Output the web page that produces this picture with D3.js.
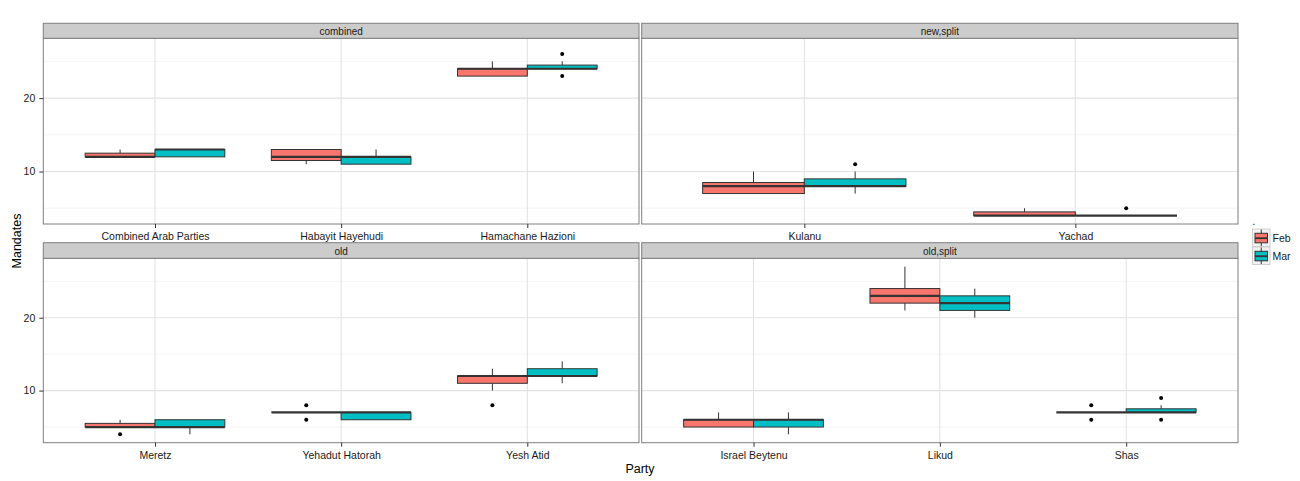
<!DOCTYPE html>
<html lang="en">
<head>
  <meta charset="UTF-8">
  <title>Mandates by party</title>
  <script src="https://d3js.org/d3.v7.min.js"></script>
  <style>
    body { margin: 0; background: #fff; }
    text { font-family: "Liberation Sans", Arial, sans-serif; }
  </style>
</head>
<body>
<script>
  // data
  var months = ['Feb', 'Mar']
  var colors = ['#F8766D', '#00BFC4']
  var facets = ['combined', 'new,split', 'old', 'old,split']
  var parties = ['Combined Arab Parties', 'Habayit Hayehudi', 'Hamachane Hazioni',
    'Kulanu', 'Yachad',
    'Meretz', 'Yehadut Hatorah', 'Yesh Atid',
    'Israel Beytenu', 'Likud', 'Shas']
  var partyFacet = ['combined', 'combined', 'combined',
    'new,split', 'new,split',
    'old', 'old', 'old',
    'old,split', 'old,split', 'old,split']
  // [min, q1, median, q3, max]
  var febStats = [[12, 12, 12, 12.5, 13], [11, 11.5, 12, 13, 13], [23, 23, 24, 24, 25],
    [7, 7, 8, 8.5, 10], [4, 4, 4, 4.5, 5],
    [5, 5, 5, 5.5, 6], [7, 7, 7, 7, 7], [10, 11, 12, 12, 13],
    [5, 5, 6, 6, 7], [21, 22, 23, 24, 27], [7, 7, 7, 7, 7]]
  var marStats = [[12, 12, 13, 13, 13], [11, 11, 12, 12, 13], [24, 24, 24, 24.5, 25],
    [7, 8, 8, 9, 10], [4, 4, 4, 4, 4],
    [4, 5, 5, 6, 6], [6, 6, 7, 7, 7], [11, 12, 12, 13, 14],
    [4, 5, 6, 6, 7], [20, 21, 22, 23, 24], [7, 7, 7, 7.5, 8]]
  var febOutliers = [[], [], [], [], [], [4], [6, 8], [8], [], [], [6, 8]]
  var marOutliers = [[], [], [23, 26], [11], [5], [], [], [], [], [], [6, 9]]
  var yTicks = [10, 20]
  var yMinor = [5, 15, 25]

  var width = 1300
  var height = 481
  var svg = d3.select('body').append('svg').attr('width', width).attr('height', height)

  // panel geometry
  var cols = [[43.3, 639], [641.7, 1238]]
  var rows = [{strip: [23.3, 38.3], panel: [38.3, 224]}, {strip: [242.7, 258.3], panel: [258.3, 442.7]}]

  var gridMajor = '#e3e3e3', gridMinor = '#f3f3f3', borderCol = '#7f7f7f'

  facets.forEach(function (f, i) {
    var c = cols[i % 2], r = rows[Math.floor(i / 2)]
    var x0 = c[0], x1 = c[1], y0 = r.panel[0], y1 = r.panel[1]
    var idx = d3.range(parties.length).filter(function (k) { return partyFacet[k] === f })
    var cats = idx.map(function (k) { return parties[k] })

    var xScale = d3.scalePoint().domain(cats).range([x0, x1]).padding(0.6)
    var yScale = d3.scaleLinear().domain([2.85, 28.15]).range([y1, y0])
    var step = xScale.step()
    var half = 0.1875 * step

    var g = svg.append('g')

    // grid
    g.selectAll('.minor').data(yMinor).enter().append('line')
      .attr('x1', x0).attr('x2', x1)
      .attr('y1', function (d) { return yScale(d) }).attr('y2', function (d) { return yScale(d) })
      .attr('stroke', gridMinor).attr('stroke-width', 0.8)
    g.selectAll('.major').data(yTicks).enter().append('line')
      .attr('x1', x0).attr('x2', x1)
      .attr('y1', function (d) { return yScale(d) }).attr('y2', function (d) { return yScale(d) })
      .attr('stroke', gridMajor).attr('stroke-width', 1.1)
    g.selectAll('.vmajor').data(cats).enter().append('line')
      .attr('x1', function (d) { return xScale(d) }).attr('x2', function (d) { return xScale(d) })
      .attr('y1', y0).attr('y2', y1)
      .attr('stroke', gridMajor).attr('stroke-width', 1.1)

    // boxes
    idx.forEach(function (k) {
      var sets = [febStats[k], marStats[k]]
      var outs = [febOutliers[k], marOutliers[k]]
      sets.forEach(function (s, m) {
        var cx = xScale(parties[k]) + (m === 0 ? -half : half)
        g.append('line').attr('x1', cx).attr('x2', cx)
          .attr('y1', yScale(s[3])).attr('y2', yScale(s[4]))
          .attr('stroke', '#333').attr('stroke-width', 1)
        g.append('line').attr('x1', cx).attr('x2', cx)
          .attr('y1', yScale(s[1])).attr('y2', yScale(s[0]))
          .attr('stroke', '#333').attr('stroke-width', 1)
        g.append('rect')
          .attr('x', cx - half).attr('width', 2 * half)
          .attr('y', yScale(s[3])).attr('height', yScale(s[1]) - yScale(s[3]))
          .attr('fill', colors[m]).attr('stroke', '#333').attr('stroke-width', 1)
        g.append('line').attr('x1', cx - half).attr('x2', cx + half)
          .attr('y1', yScale(s[2])).attr('y2', yScale(s[2]))
          .attr('stroke', '#333').attr('stroke-width', 2.2)
        g.selectAll(null).data(outs[m]).enter().append('circle')
          .attr('cx', cx).attr('cy', function (d) { return yScale(d) })
          .attr('r', 2).attr('fill', '#000')
      })
    })

    // panel border
    g.append('rect').attr('x', x0).attr('y', y0).attr('width', x1 - x0).attr('height', y1 - y0)
      .attr('fill', 'none').attr('stroke', borderCol).attr('stroke-width', 1)

    // strip
    g.append('rect').attr('x', x0).attr('y', r.strip[0]).attr('width', x1 - x0)
      .attr('height', r.strip[1] - r.strip[0])
      .attr('fill', '#cccccc').attr('stroke', borderCol).attr('stroke-width', 1)
    g.append('text').attr('x', (x0 + x1) / 2).attr('y', r.strip[1] - 3.5)
      .attr('text-anchor', 'middle').attr('font-size', '10px').attr('fill', '#1a1a1a')
      .text(f)

    // x axis
    var xAxis = d3.axisBottom(xScale).tickSize(4).tickPadding(4.5)
    var ax = g.append('g').attr('transform', 'translate(0,' + y1 + ')').call(xAxis)
    ax.select('.domain').remove()
    ax.selectAll('line').attr('stroke', '#333')
    ax.selectAll('text').attr('font-size', '10.5px').attr('fill', '#1a1a1a')
      .style('font-family', '"Liberation Sans", Arial, sans-serif')

    // y axis on left column only
    if (i % 2 === 0) {
      var yAxis = d3.axisLeft(yScale).tickValues(yTicks).tickSize(4).tickPadding(4)
      var ay = g.append('g').attr('transform', 'translate(' + x0 + ',0)').call(yAxis)
      ay.select('.domain').remove()
      ay.selectAll('line').attr('stroke', '#333')
      ay.selectAll('text').attr('font-size', '10.5px').attr('fill', '#1a1a1a')
        .style('font-family', '"Liberation Sans", Arial, sans-serif')
    }
  })

  // axis titles
  svg.append('text').attr('x', 640).attr('y', 473).attr('text-anchor', 'middle')
    .attr('font-size', '12.5px').attr('fill', '#000').text('Party')
  svg.append('text').attr('transform', 'translate(21,241) rotate(-90)').attr('text-anchor', 'middle')
    .attr('font-size', '12.5px').attr('fill', '#000').text('Mandates')

  // legend
  var lg = svg.append('g').attr('transform', 'translate(1252.5,229)')
  lg.append('text').attr('x', 0).attr('y', -4).attr('font-size', '10px').text('.')
  months.forEach(function (mo, m) {
    var ky = m * 18
    var k = lg.append('g').attr('transform', 'translate(0,' + ky + ')')
    k.append('rect').attr('x', 0).attr('y', 0).attr('width', 17.5).attr('height', 17.5)
      .attr('fill', '#f2f2f2').attr('stroke', '#cfcfcf').attr('stroke-width', 1)
    k.append('line').attr('x1', 8.75).attr('x2', 8.75).attr('y1', 0.5).attr('y2', 17)
      .attr('stroke', '#333').attr('stroke-width', 1)
    k.append('rect').attr('x', 2.5).attr('y', 4.3).attr('width', 12.5).attr('height', 9.5)
      .attr('fill', colors[m]).attr('stroke', '#333').attr('stroke-width', 1)
    k.append('line').attr('x1', 2.5).attr('x2', 15).attr('y1', 9.2).attr('y2', 9.2)
      .attr('stroke', '#333').attr('stroke-width', 1.8)
    lg.append('text').attr('x', 20).attr('y', ky + 13.2).attr('font-size', '10.5px')
      .attr('fill', '#1a1a1a').text(mo)
  })
</script>
</body>
</html>
